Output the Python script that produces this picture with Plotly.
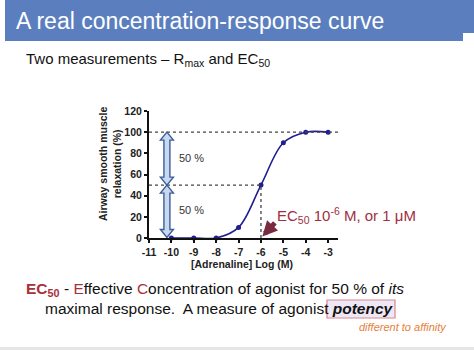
import plotly.graph_objects as go

# Concentration-response data: adrenaline (log M) vs airway smooth muscle relaxation (%)
log_conc = [-10, -9, -8, -7, -6, -5, -4, -3]
relaxation = [0, 0, 0, 10, 50, 90, 100, 100]
x_ticks = [-11, -10, -9, -8, -7, -6, -5, -4, -3]
x_tick_labels = ["-11", "-10", "-9", "-8", "-7", "-6", "-5", "-4", "-3"]
y_ticks = [0, 20, 40, 60, 80, 100, 120]
r_max = 100
half_max = 50
log_ec50 = -6

W, H = 474, 350
L, R, T, B = 149, 136, 111, 112
X_RANGE = [-11, -2.56]
Y_RANGE = [0, 120]

FONT = "Liberation Sans, Arial, sans-serif"
RED = "#a8303a"


def px(xp):
    return (xp - L) / (W - L - R)


def py(yp):
    return 1 - (yp - T) / (H - T - B)


x_per_px = (X_RANGE[1] - X_RANGE[0]) / (W - L - R)
y_per_px = (Y_RANGE[1] - Y_RANGE[0]) / (H - T - B)

fig = go.Figure()
fig.add_trace(go.Scatter(
    x=log_conc, y=relaxation, mode="lines+markers",
    line=dict(color="#1f1f8f", width=1.6, shape="spline", smoothing=1.0),
    marker=dict(color="#1f1f8f", size=5),
    cliponaxis=False, showlegend=False, hoverinfo="skip",
))

shapes = []
# title bar
shapes.append(dict(type="rect", xref="paper", yref="paper", x0=px(5), x1=px(463), y0=py(0), y1=py(41),
                   fillcolor="#5b7fbe", line=dict(width=0), layer="below"))
shapes.append(dict(type="rect", xref="paper", yref="paper", x0=px(462), x1=px(474), y0=py(0), y1=py(33),
                   fillcolor="#5b7fbe", line=dict(width=0), layer="below"))
# footer strip
shapes.append(dict(type="rect", xref="paper", yref="paper", x0=px(0), x1=px(474), y0=py(347), y1=py(350),
                   fillcolor="#e6e6e6", line=dict(width=0), layer="below"))

# dotted guides for Rmax, half-max and EC50
dot = dict(color="#444", width=1.3, dash="dot")
shapes.append(dict(type="line", xref="x", yref="y", x0=X_RANGE[0], x1=X_RANGE[1], y0=r_max, y1=r_max, line=dot))
shapes.append(dict(type="line", xref="x", yref="y", x0=X_RANGE[0], x1=log_ec50, y0=half_max, y1=half_max, line=dot))
shapes.append(dict(type="line", xref="x", yref="y", x0=log_ec50, x1=log_ec50, y0=0, y1=half_max, line=dot))

# block double arrows spanning each half of the response
xa = -10.2
sw = 3 * x_per_px
hw = 6.5 * x_per_px
hh = 8 * y_per_px


def double_arrow(y0, y1):
    pts = [(xa, y1), (xa + hw, y1 - hh), (xa + sw, y1 - hh), (xa + sw, y0 + hh), (xa + hw, y0 + hh),
           (xa, y0), (xa - hw, y0 + hh), (xa - sw, y0 + hh), (xa - sw, y1 - hh), (xa - hw, y1 - hh)]
    return "M " + " L ".join(f"{a},{b}" for a, b in pts) + " Z"


for y0, y1 in [(half_max, r_max), (0.5, half_max)]:
    shapes.append(dict(type="path", xref="x", yref="y", path=double_arrow(y0, y1),
                       fillcolor="#c8d8f0", line=dict(color="#3d5f96", width=1.4)))

# box around "potency"
shapes.append(dict(type="rect", xref="paper", yref="paper", x0=px(327), x1=px(395), y0=py(300), y1=py(318),
                   fillcolor="#eee8f6", line=dict(color="#d9878c", width=1.2), layer="below"))

ann = []


def text(xp, yp, s, size, color="#111", xanchor="left", **kw):
    ann.append(dict(xref="paper", yref="paper", x=px(xp), y=py(yp), text=s, showarrow=False,
                    xanchor=xanchor, yanchor="middle", font=dict(family=FONT, size=size, color=color), **kw))


text(14, 21, "A real concentration-response curve", 23, "white")
text(24, 59, "Two measurements – R<sub>max</sub> and EC<sub>50</sub>", 15)

# in-plot labels
ann.append(dict(xref="x", yref="y", x=-9.75, y=76, text="50 %", showarrow=False, xanchor="left",
                font=dict(family=FONT, size=11, color="#333")))
ann.append(dict(xref="x", yref="y", x=-9.75, y=26, text="50 %", showarrow=False, xanchor="left",
                font=dict(family=FONT, size=11, color="#333")))
text(275, 215, "EC<sub>50</sub> 10<sup>-6</sup> M, or 1 μM", 15, "#9e3041")
ann.append(dict(xref="x", yref="y", x=log_ec50 + 0.06, y=1.5, text="", showarrow=True,
                ax=14, ay=-15, arrowhead=2, arrowsize=0.6, arrowwidth=5, arrowcolor="#7b2b3f"))

# axis titles
ann.append(dict(xref="paper", yref="paper", x=px(242), y=py(264), text="[Adrenaline] Log (M)",
                showarrow=False, xanchor="center", yanchor="middle",
                font=dict(family=FONT, size=10.5, color="#222", weight="bold")))
ann.append(dict(xref="paper", yref="paper", x=px(110), y=py(164), text="Airway smooth muscle<br>relaxation (%)",
                showarrow=False, textangle=-90, xanchor="center", yanchor="middle",
                font=dict(family=FONT, size=10.5, color="#222", weight="bold")))

# definition text
text(24, 289, f"<span style='color:{RED}'><b>EC<sub>50</sub></b></span> - <span style='color:{RED}'>E</span>ffective "
              f"<span style='color:{RED}'>C</span>oncentration of agonist for 50 % of <i>its</i>", 15.5)
text(43, 308, "maximal response.  A measure of agonist <b><i>potency</i></b>", 15.5)
text(357, 327, "<i>different to affinity</i>", 11, "#e5803a")

axis_common = dict(showline=True, linecolor="#111", linewidth=2, ticks="outside", ticklen=3, tickwidth=1.5,
                   tickcolor="#111", showgrid=False, zeroline=False,
                   tickfont=dict(family=FONT, size=10.5, color="#222", weight="bold"))

fig.update_layout(
    width=W, height=H, margin=dict(l=L, r=R, t=T, b=B),
    paper_bgcolor="white", plot_bgcolor="white",
    xaxis=dict(range=X_RANGE, tickvals=x_ticks, ticktext=x_tick_labels, **axis_common),
    yaxis=dict(range=Y_RANGE, tickvals=y_ticks, **axis_common),
    shapes=shapes, annotations=ann, showlegend=False,
)

fig.write_html("out.html")
